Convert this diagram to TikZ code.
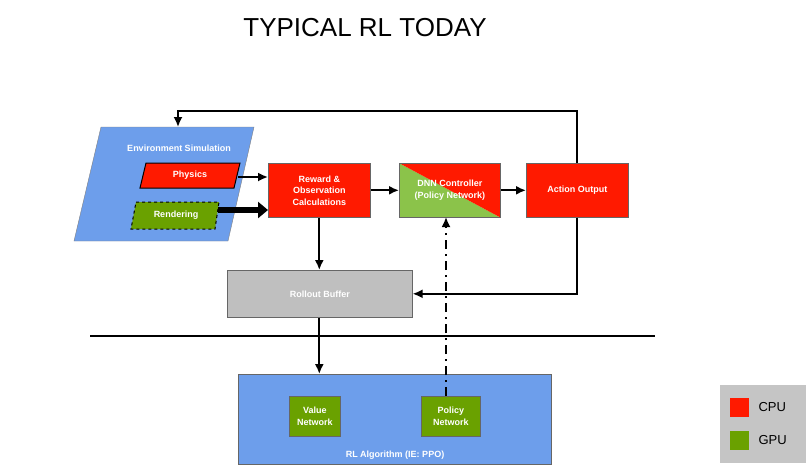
\documentclass[tikz,border=0pt]{standalone}
\usepackage{fontspec}
\setmainfont{Liberation Sans}
\usetikzlibrary{arrows.meta}
\definecolor{bl}{HTML}{6D9EEB}
\definecolor{rd}{HTML}{FF1A00}
\definecolor{gr}{HTML}{6AA100}
\definecolor{lg}{HTML}{8BC34A}
\definecolor{gy}{HTML}{BFBFBF}
\begin{document}
\begin{tikzpicture}[x=1pt,y=-1pt,
  lbl/.style={font=\bfseries\fontsize{9}{11.5}\selectfont,text=white,align=center},
  box/.style={draw=black!60,line width=0.6pt},
  arr/.style={-{Latex[length=10pt,width=9pt]},line width=1.8pt}]
\useasboundingbox (0,0) rectangle (811,467);
\node[font=\fontsize{26}{30}\selectfont] (title) at (365,28) {TYPICAL RL TODAY};
% environment
\fill[bl,draw=black!50] (101,127) -- (254,127) -- (228,241) -- (74,241) -- cycle;
\node[lbl] (envt) at (179,148) {Environment Simulation};
\fill[rd,draw=black,line width=1pt] (146,163) -- (240,163) -- (234,188) -- (140,188) -- cycle;
\node[lbl] (phys) at (190,175.5) {Physics};
\fill[gr,draw=black,dashed,line width=1pt] (136,202) -- (219,202) -- (215,229) -- (131,229) -- cycle;
\node[lbl] (rend) at (176,215.5) {Rendering};
\coordinate (physR) at (238,177);
\coordinate (rendR) at (218,210);
% boxes
\node[box,fill=rd,lbl,minimum width=102pt,minimum height=54pt,anchor=north west] (rew) at (268,163) {Reward \&\\Observation\\Calculations};
\node[box,minimum width=101pt,minimum height=54pt,anchor=north west] (dnn) at (399,163) {};
\fill[lg] (dnn.north west) -- (dnn.south east) -- (dnn.south west) -- cycle;
\fill[rd] (dnn.north west) -- (dnn.north east) -- (dnn.south east) -- cycle;
\draw[black!60,line width=0.6pt] (dnn.north west) rectangle (dnn.south east);
\node[lbl] at (dnn.center) {DNN Controller\\(Policy Network)};
\node[box,fill=rd,lbl,minimum width=102pt,minimum height=54pt,anchor=north west] (act) at (526,163) {Action Output};
\node[box,fill=gy,lbl,minimum width=185pt,minimum height=47pt,anchor=north west] (roll) at (227,270) {Rollout Buffer};
\draw[line width=1.3pt] (90,336) -- (655,336);
\node[box,fill=bl,minimum width=313pt,minimum height=90pt,anchor=north west] (rl) at (238,374) {};
\node[lbl] (rll) at (395,455) {RL Algorithm (IE: PPO)};
\node[box,fill=gr,lbl,minimum width=51pt,minimum height=40pt,anchor=north west] (val) at (289,396) {Value\\Network};
\node[box,fill=gr,lbl,minimum width=59pt,minimum height=40pt,anchor=north west] (pol) at (421,396) {Policy\\Network};
% legend
\node[fill=gy!90,minimum width=86pt,minimum height=78pt,anchor=north west] (leg) at (720,385) {};
\node[fill=rd,minimum size=19pt,inner sep=0pt] (cpu) at (739.5,407.5) {};
\node[fill=gr,minimum size=19pt,inner sep=0pt] (gpu) at (739.5,440.5) {};
\node[anchor=west,font=\fontsize{13}{15}\selectfont] (cput) at (755,407.5) {CPU};
\node[anchor=west,font=\fontsize{13}{15}\selectfont] (gput) at (755,440.5) {GPU};
% connectors
\coordinate (envtop) at (178,127);
\draw[arr] (physR) -- (physR -| rew.west);
\draw[-{Triangle[length=10pt,width=16pt]},line width=6pt] (rendR) -- (rendR -| rew.west);
\draw[arr] (rew.east) -- (dnn.west);
\draw[arr] (dnn.east) -- (act.west);
\draw[arr] (act.north) -- ++(0,-52) -| (envtop);
\draw[arr] (act.south) |- (roll.east);
\draw[arr] (rew.south) -- (rew.south |- roll.north);
\draw[arr] (roll.south -| rew.south) -- (rl.north -| rew.south);
\draw[arr,dash pattern=on 9pt off 5pt on 2pt off 5pt] (446,396) -- (446,217);
\end{tikzpicture}
\end{document}
